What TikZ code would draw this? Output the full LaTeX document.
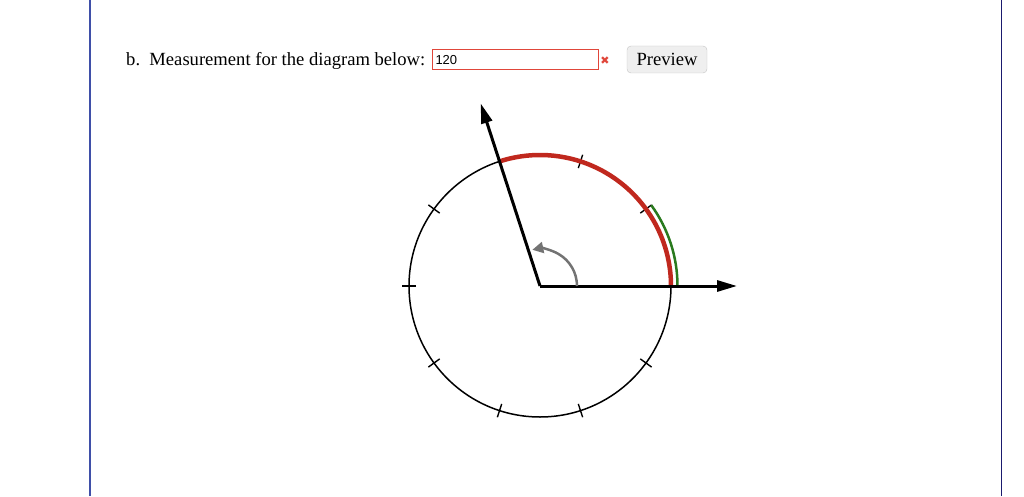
\documentclass[tikz,border=0pt]{standalone}
\usepackage{fontspec}
\setmainfont{Liberation Serif}
\newfontfamily\boxfont{Liberation Sans}
\newfontfamily\symfont{DejaVu Sans}
\usepackage{tikz}
\usetikzlibrary{arrows.meta}

\definecolor{pageblue}{HTML}{3F4FA8}
\definecolor{pagenavy}{HTML}{1A1A6E}
\definecolor{wrongred}{HTML}{C0281E}
\definecolor{boxred}{HTML}{E0463A}
\definecolor{rightgreen}{HTML}{2A7A1E}
\definecolor{btnfill}{HTML}{EFEFEF}
\definecolor{btnline}{HTML}{C4C4C4}

\begin{document}
\begin{tikzpicture}[x=1pt,y=1pt,
    ray/.style={line width=3pt,-{Triangle[length=20pt,width=11pt]}},
    tickmark/.style={line width=1.4pt},
    qtext/.style={font=\fontsize{18.6}{21}\selectfont,inner sep=0pt}]
                \useasboundingbox (0,0) rectangle (1024,496);

                % page edges
                \draw[pageblue,line width=1.5pt] (90,0) -- (90,496);
                \draw[pagenavy,line width=1pt] (1001,0) -- (1001,496);

                % question line
                \node[qtext,anchor=base west] (question) at (126,430) {b.\ \ Measurement for the diagram below:};
                \node[draw=boxred,line width=1pt,anchor=west,minimum width=166pt,minimum height=20pt,inner sep=2pt,
                      text width=160pt,font=\boxfont\fontsize{13}{15}\selectfont] (answer) at (432,436) {120};
                \node[boxred,font=\symfont\fontsize{11}{12}\selectfont,inner sep=0pt] (cross) at (605,435) {✖};
                \node[draw=btnline,fill=btnfill,rounded corners=4pt,minimum width=80pt,minimum height=27pt,qtext]
                      (preview) at (667,436.5) {Preview};

                % circle and ticks
                \coordinate (O) at (540,210);
                \coordinate (E) at (737,210);
                \coordinate (T) at ([shift={(108:192)}]O);
                \draw[line width=1.5pt] (O) circle[radius=131];
                \foreach \a in {36,72,144,180,216,252,288,324}
                    \draw[tickmark] ([shift={(\a:124)}]O) -- ([shift={(\a:138)}]O);

                % marked arcs
                \draw[wrongred,line width=4.5pt] ([shift={(0:131)}]O) arc[start angle=0,end angle=108,radius=131];
                \draw[rightgreen,line width=2.5pt] ([shift={(0:137.5)}]O) arc[start angle=0,end angle=36,radius=137.5];

                % rays
                \draw[ray] (O) -- (E);
                \draw[ray] (O) -- (T);

                % turning arrow
                \draw[gray!110,line width=2.5pt,-{Triangle[length=11pt,width=11pt]}] ([shift={(0:37)}]O) arc[start angle=0,end angle=102,radius=37];
            \end{tikzpicture}
\end{document}
